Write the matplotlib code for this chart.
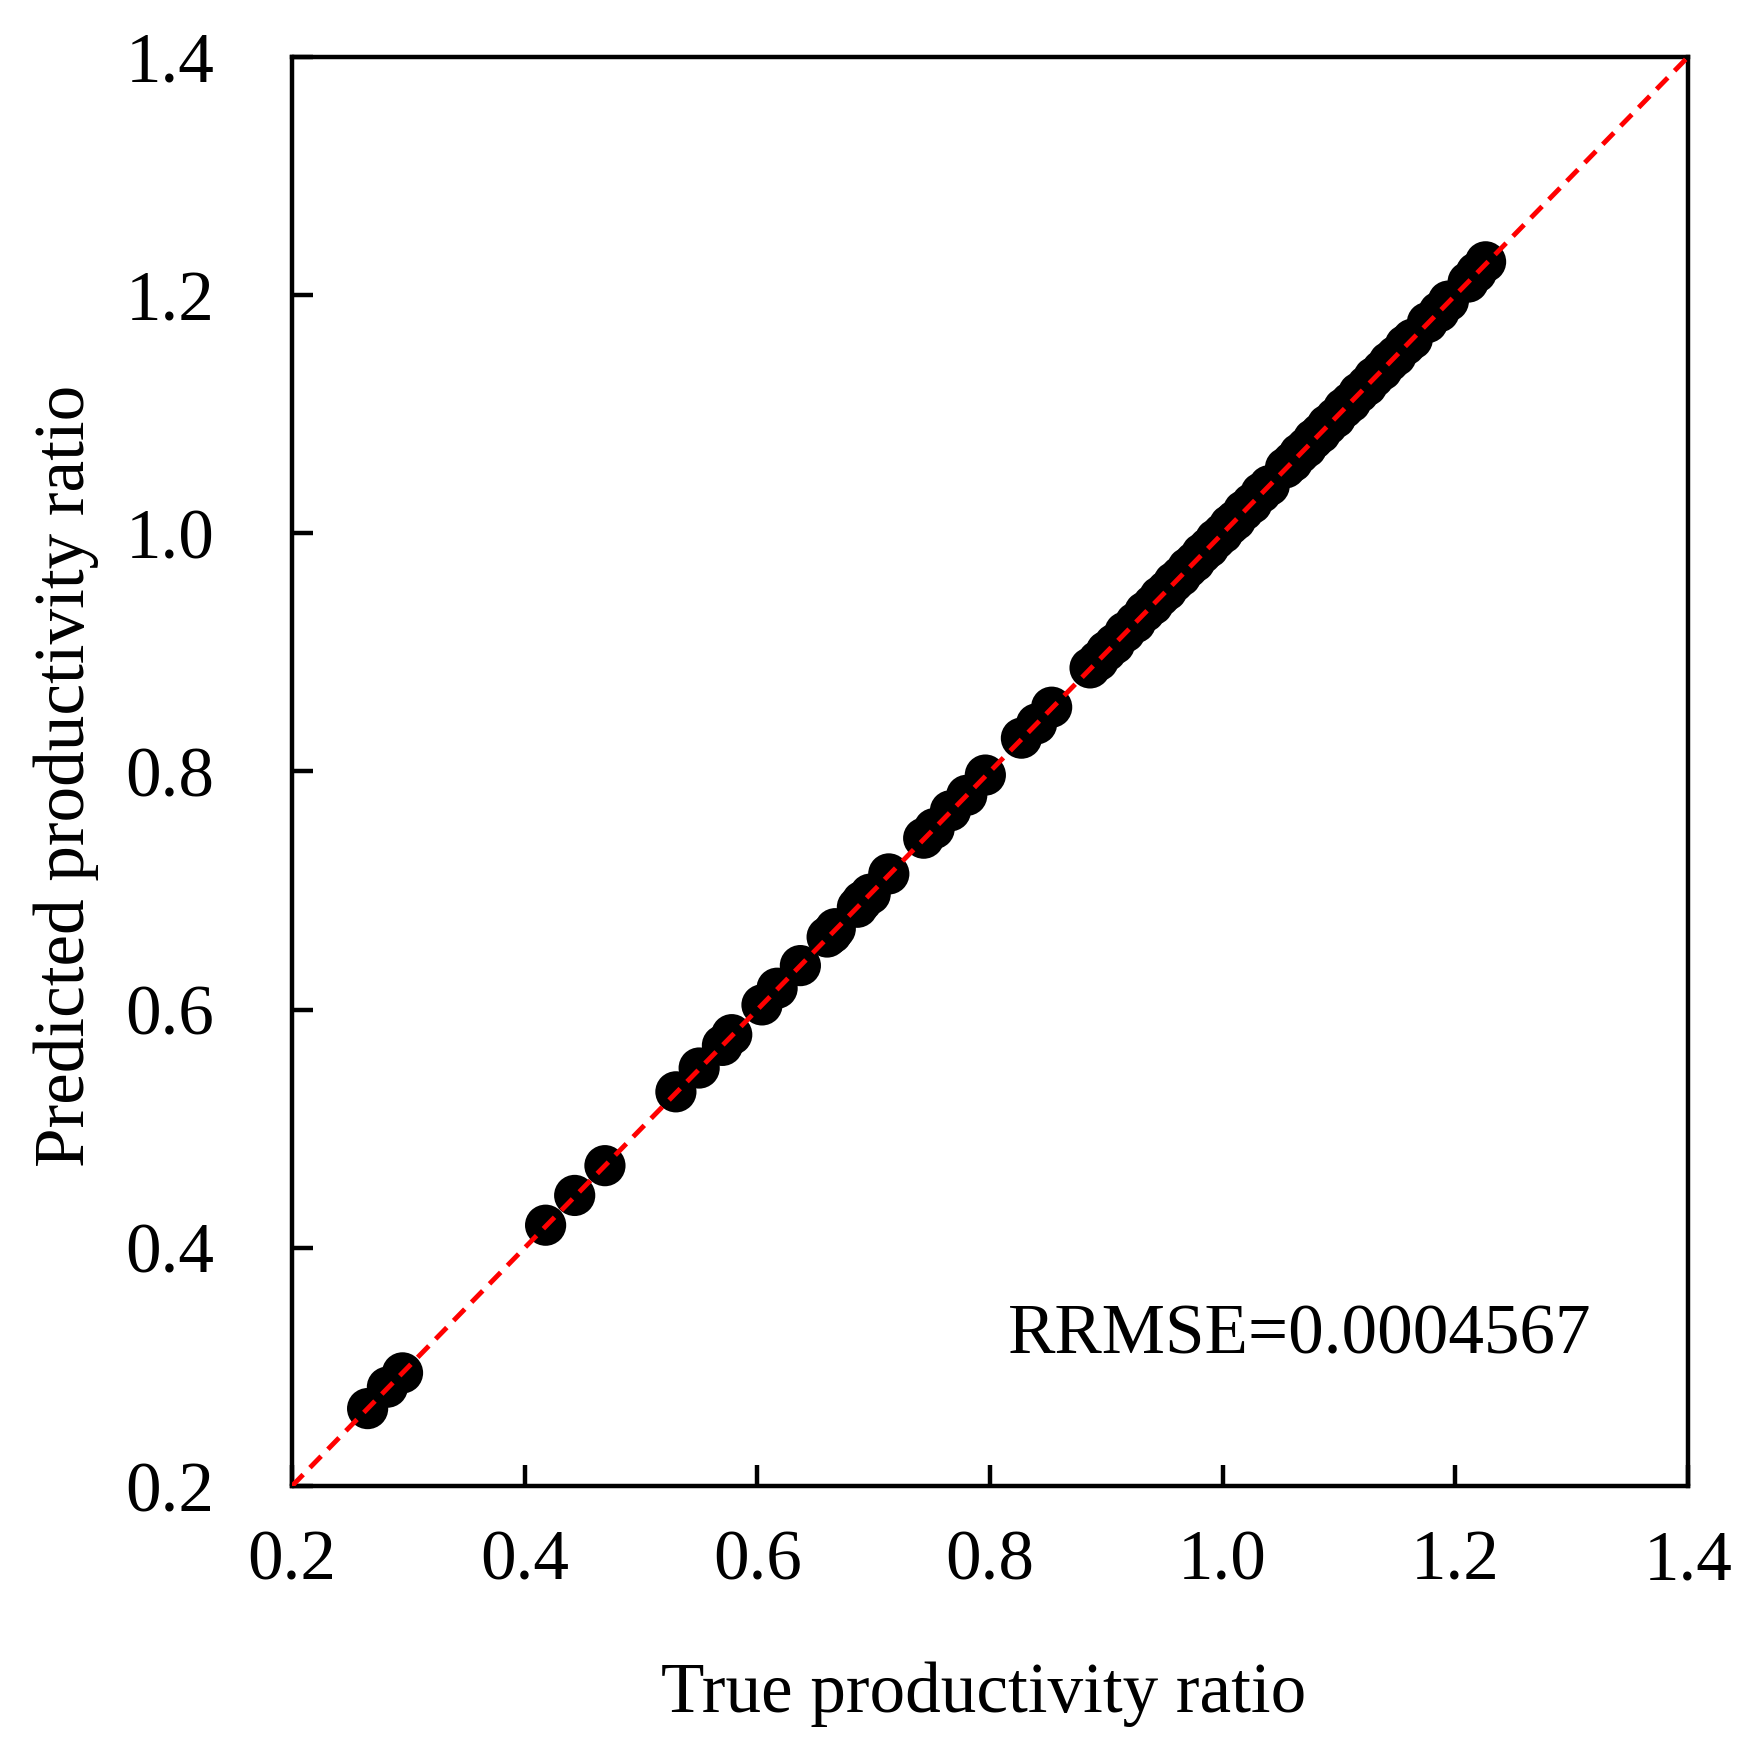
import matplotlib
matplotlib.use("Agg")
import matplotlib.pyplot as plt

plt.rcParams['font.family'] = ['Liberation Serif', 'DejaVu Serif']
plt.rcParams['lines.scale_dashes'] = False

true_ratio = [
    0.265, 0.282, 0.295,
    0.418, 0.443, 0.469,
    0.530, 0.550, 0.570, 0.578,
    0.604, 0.617, 0.637,
    0.660, 0.664, 0.667, 0.686, 0.690, 0.697, 0.713,
    0.743, 0.752, 0.766, 0.780, 0.796,
    0.827, 0.840, 0.853,
    0.886, 0.893, 0.900, 0.907, 0.916, 0.925, 0.933, 0.940, 0.946, 0.952,
    0.958, 0.964, 0.970, 0.976, 0.982, 0.988, 0.994, 1.000, 1.006, 1.011,
    1.018, 1.025, 1.033, 1.040, 1.054, 1.060, 1.066, 1.072, 1.078, 1.084,
    1.090, 1.097, 1.104, 1.110, 1.117, 1.124, 1.130, 1.137, 1.143, 1.149,
    1.157, 1.163, 1.176, 1.186, 1.194, 1.211, 1.218, 1.226,
]
pred_ratio = [
    0.265, 0.283, 0.295,
    0.419, 0.444, 0.469,
    0.531, 0.551, 0.570, 0.579,
    0.604, 0.618, 0.637,
    0.661, 0.664, 0.668, 0.686, 0.691, 0.697, 0.714,
    0.744, 0.752, 0.767, 0.780, 0.797,
    0.828, 0.840, 0.854,
    0.887, 0.893, 0.901, 0.907, 0.917, 0.925, 0.934, 0.940, 0.947, 0.952,
    0.959, 0.964, 0.971, 0.976, 0.983, 0.988, 0.995, 1.000, 1.007, 1.011,
    1.019, 1.025, 1.034, 1.040, 1.055, 1.060, 1.067, 1.072, 1.079, 1.084,
    1.091, 1.097, 1.105, 1.110, 1.118, 1.124, 1.131, 1.137, 1.144, 1.149,
    1.158, 1.163, 1.177, 1.186, 1.195, 1.211, 1.219, 1.228,
]
ticks = [0.2, 0.4, 0.6, 0.8, 1.0, 1.2, 1.4]
tick_labels = ['0.2', '0.4', '0.6', '0.8', '1.0', '1.2', '1.4']
rrmse_text = 'RRMSE=0.0004567'

FS = 51.2
W, H = 1743, 1746
fig = plt.figure(figsize=(W / 100, H / 100), dpi=100)
ax = fig.add_axes([292 / W, 1 - 1486 / H, (1688 - 292) / W, (1486 - 57) / H])

ax.scatter(true_ratio, pred_ratio, s=880, c='black', edgecolors='none', zorder=2)
ax.plot([0.2, 1.4], [0.2, 1.4], color='#ff0000', lw=3.5, dashes=(11.5, 7.0), zorder=3)

ax.set_xlim(0.2, 1.4)
ax.set_ylim(0.2, 1.4)
ax.set_xticks(ticks)
ax.set_xticklabels(tick_labels)
ax.set_yticks(ticks)
ax.set_yticklabels(tick_labels)
ax.tick_params(axis='both', direction='in', length=15, width=3.2, labelsize=FS)
ax.tick_params(axis='x', pad=31)
ax.tick_params(axis='y', pad=56)
for sp in ax.spines.values():
    sp.set_linewidth(3.2)

ax.text(1008 / W, 1 - 1354 / H, rrmse_text, transform=fig.transFigure,
        fontsize=FS, ha='left', va='baseline')

fig.text(984 / W, 1 - 1694 / H, 'True productivity ratio', fontsize=FS,
         ha='center', va='center')
fig.text(66 / W, 1 - 776 / H, 'Predicted productivity ratio', fontsize=FS,
         ha='center', va='center', rotation=90)

fig.savefig('out.png', dpi=100, facecolor='white')
